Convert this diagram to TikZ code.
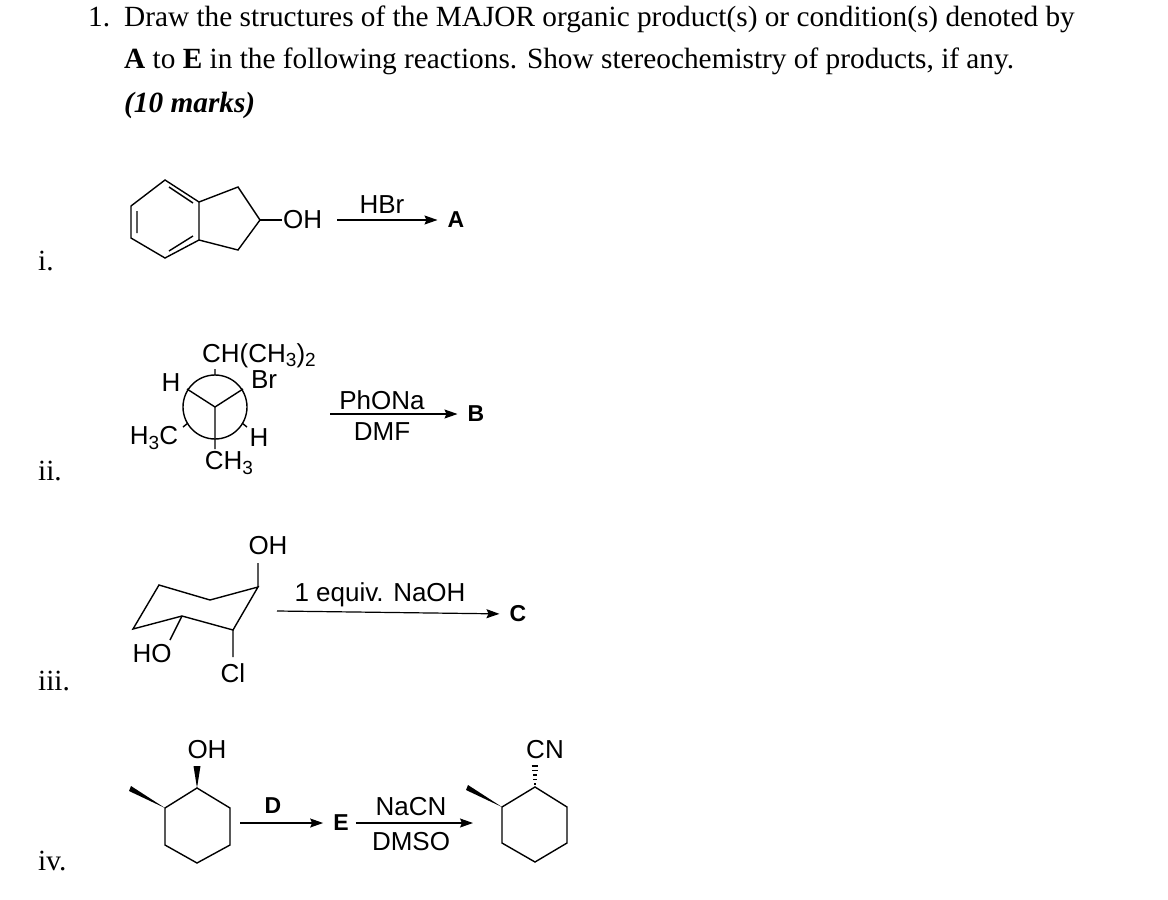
\documentclass[tikz,border=0pt]{standalone}
\usepackage{fontspec}
\setmainfont{Liberation Serif}
\newfontfamily\chem{Liberation Sans}
\usetikzlibrary{arrows.meta}
\newcommand{\sbx}[1]{\raisebox{-0.3ex}{\fontsize{19}{20}\selectfont #1}}
\begin{document}
\begin{tikzpicture}[x=1pt,y=-1pt,
  bond/.style={line width=1.4pt,line join=miter},
  rxn/.style={line width=1.2pt,shorten >=9pt,-{Stealth[length=13pt,width=9pt,inset=2pt]}},
  hdr/.style={font=\fontsize{29.3}{32}\selectfont,anchor=base west,inner sep=0},
  lab/.style={font=\chem\fontsize{26}{28}\selectfont,inner sep=1pt},
  blab/.style={font=\chem\bfseries\fontsize{23}{26}\selectfont,inner sep=1pt}]
\useasboundingbox (0,0) rectangle (1168,900);
% header
\node[hdr] (n1) at (88,26) {1.};
\node[hdr] (h1) at (124,26) {Draw the structures of the MAJOR organic product(s) or condition(s) denoted by};
\node[hdr] (h2) at (124,68) {\textbf{A} to \textbf{E} in the following reactions. Show stereochemistry of products, if any.};
\node[hdr] (h3) at (124,112) {\textbf{\textit{(10 marks)}}};
\node[hdr] (r1) at (38,270) {i.};
\node[hdr] (r2) at (38,480) {ii.};
\node[hdr] (r3) at (38,690) {iii.};
\node[hdr] (r4) at (38,870) {iv.};
% i indane
\draw[bond] (131,206)--(165,180)--(199,202)--(199,240)--(165,258)--(131,238)--cycle;
\draw[bond] (137,211)--(137,233) (169,187)--(193,203) (169,251)--(193,236);
\draw[bond] (199,202)--(238,187)--(260,220)--(238,250)--(199,240);
\node[lab,anchor=west] (oh1) at (282,220) {OH};
\draw[bond] (260,220)--(oh1.west);
\node[lab] (hbr) at (382,205) {HBr};
\node[blab] (A) at (456,220) {A};
\draw[rxn] (337,220)--(A.west);
% ii Newman
\coordinate (nc) at (215,407);
\draw[bond] (nc) circle (32);
\draw[bond] (nc)--(187,389) (nc)--(243,389) (nc)--(215,449);
\draw[bond] (215,375)--(215,369) (188,423)--(183,427) (242,423)--(247,427);
\node[lab,anchor=west] (ipr) at (201,356) {CH(CH\sbx{3})\sbx{2}};
\node[lab] (br) at (264,380) {Br};
\node[lab] (hh1) at (171,383) {H};
\node[lab] (h3c) at (154,438) {H\sbx{3}C};
\node[lab] (hh2) at (259,438) {H};
\node[lab] (ch3) at (229,463) {CH\sbx{3}};
\node[lab] (phona) at (382,400) {PhONa};
\node[lab] (dmf) at (382,432) {DMF};
\node[blab] (B) at (476,414) {B};
\draw[rxn] (330,414)--(B.west);
% iii chair
\draw[bond] (159,585)--(210,600)--(258,587)--(233,630)--(182,616)--(133,629)--cycle;
\draw[bond] (258,587)--(258,563) (233,630)--(233,657) (182,616)--(170,640);
\node[lab] (oh3) at (268,546) {OH};
\node[lab] (cl) at (233,673) {Cl};
\node[lab] (ho) at (152,654) {HO};
\node[lab] (naoh) at (380,595) {1 equiv. NaOH};
\node[blab] (C) at (518,614) {C};
\draw[rxn] (277,611)--(C.west);
% iv
\draw[bond] (197,788)--(230,808)--(230,845)--(197,863)--(165,845)--(165,808)--cycle;
\fill (165,808)--(131,786)--(129,791)--cycle;
\fill (197,788)--(193.5,766)--(200.5,766)--cycle;
\node[lab] (oh4) at (207,750) {OH};
\node[blab] (D) at (273,806) {D};
\node[blab] (E) at (341,823) {E};
\draw[rxn] (240,823)--(E.west);
\node[lab] (nacn) at (411,807) {NaCN};
\node[lab] (dmso) at (411,842) {DMSO};
\coordinate (ring2) at (482,823);
\draw[rxn] (E.east)++(6,0)--(ring2);
\draw[bond] (535,787)--(567,807)--(567,843)--(535,862)--(502,843)--(502,807)--cycle;
\fill (502,807)--(468,785)--(466,790)--cycle;
\foreach \i in {0,...,4} \draw[line width=1.2pt] ({535-1-\i*0.6},{784-\i*4.5})--({535+1+\i*0.6},{784-\i*4.5});
\node[lab] (cn) at (545,750) {CN};
\end{tikzpicture}
\end{document}
